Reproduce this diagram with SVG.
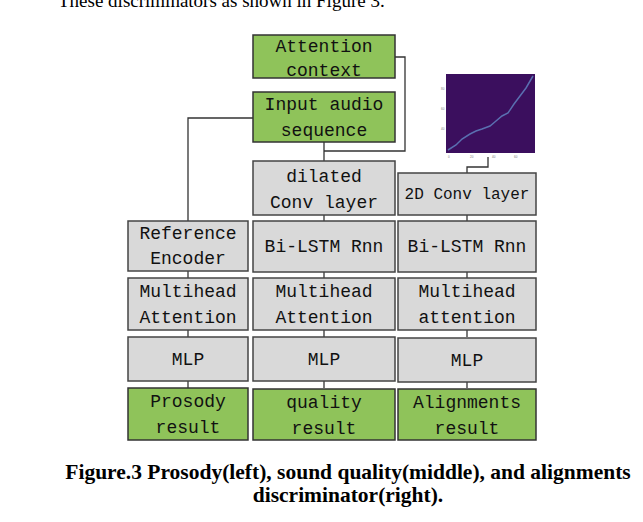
<svg xmlns="http://www.w3.org/2000/svg" width="643" height="522" viewBox="0 0 643 522">
<style>
.g{fill:#8fc35a;stroke:#333;stroke-width:1.5}
.s{fill:#d9d9d9;stroke:#444;stroke-width:1.5}
.t{font-family:"Liberation Mono",monospace;font-size:18px;fill:#111;text-anchor:middle}
.c{fill:none;stroke:#333;stroke-width:1.3}
.cap{font-family:"Liberation Serif",serif;font-weight:bold;font-size:21.5px;text-anchor:middle;fill:#000}
</style>
<rect width="643" height="522" fill="#fff"/>
<text x="58" y="7" font-family="Liberation Serif,serif" font-size="19">These discriminators as shown in Figure 3.</text>
<g id="connectors" class="c">
<polyline points="395,57 405,57 405,151 324,151"/>
<line x1="324" y1="142" x2="324" y2="161"/>
<polyline points="253,118 188,118 188,221"/>
<polyline points="488,157 488,167 467,167 467,173"/>
<line x1="324" y1="215" x2="324" y2="221"/>
<line x1="467" y1="215" x2="467" y2="221"/>
<line x1="188" y1="271" x2="188" y2="278"/><line x1="324" y1="272" x2="324" y2="278"/><line x1="467" y1="272" x2="467" y2="278"/>
<line x1="188" y1="330" x2="188" y2="337"/><line x1="324" y1="330" x2="324" y2="337"/><line x1="467" y1="330" x2="467" y2="337"/>
<line x1="188" y1="381" x2="188" y2="388"/><line x1="324" y1="381" x2="324" y2="388"/><line x1="467" y1="381" x2="467" y2="388"/>
</g>
<g id="attention-context"><rect class="g" x="253" y="35" width="142" height="43"/><text class="t" x="324" y="52">Attention</text><text class="t" x="324" y="76">context</text></g>
<g id="input-audio"><rect class="g" x="253" y="92" width="142" height="50"/><text class="t" x="324" y="110">Input audio</text><text class="t" x="324" y="136">sequence</text></g>
<g id="plot">
<rect x="446" y="74" width="89" height="79" fill="#3b0f5e"/>
<polyline points="448,150 456,145 462,139 470,134 476,131 482,129 490,126 496,121 502,116 508,113 514,104 520,96 526,88 533,76" fill="none" stroke="#5a6fb0" stroke-width="1.5"/>
<g font-family="Liberation Sans,sans-serif" font-size="3" fill="#777"><text x="441" y="90">80</text><text x="441" y="110">60</text><text x="441" y="130">40</text><text x="448" y="158">0</text><text x="470" y="158">20</text><text x="492" y="158">40</text><text x="514" y="158">60</text></g>
</g>
<g id="dilated-conv"><rect class="s" x="253" y="161" width="142" height="54"/><text class="t" x="324" y="182">dilated</text><text class="t" x="324" y="208">Conv layer</text></g>
<g id="conv2d"><rect class="s" x="398" y="173" width="138" height="42"/><text class="t" x="467" y="199" style="font-size:16px">2D Conv layer</text></g>
<g id="reference-encoder"><rect class="s" x="128" y="221" width="120" height="50"/><text class="t" x="188" y="239">Reference</text><text class="t" x="188" y="264">Encoder</text></g>
<g id="bilstm-mid"><rect class="s" x="253" y="221" width="142" height="51"/><text class="t" x="324" y="252">Bi-LSTM Rnn</text></g>
<g id="bilstm-right"><rect class="s" x="398" y="221" width="138" height="51"/><text class="t" x="467" y="252">Bi-LSTM Rnn</text></g>
<g id="mha-left"><rect class="s" x="128" y="278" width="120" height="52"/><text class="t" x="188" y="297">Multihead</text><text class="t" x="188" y="323">Attention</text></g>
<g id="mha-mid"><rect class="s" x="253" y="278" width="142" height="52"/><text class="t" x="324" y="297">Multihead</text><text class="t" x="324" y="323">Attention</text></g>
<g id="mha-right"><rect class="s" x="398" y="278" width="138" height="52"/><text class="t" x="467" y="297">Multihead</text><text class="t" x="467" y="323">attention</text></g>
<g id="mlp-left"><rect class="s" x="128" y="337" width="120" height="44"/><text class="t" x="188" y="365">MLP</text></g>
<g id="mlp-mid"><rect class="s" x="253" y="337" width="142" height="44"/><text class="t" x="324" y="365">MLP</text></g>
<g id="mlp-right"><rect class="s" x="398" y="338" width="138" height="44"/><text class="t" x="467" y="366">MLP</text></g>
<g id="prosody-result"><rect class="g" x="128" y="388" width="120" height="52"/><text class="t" x="188" y="407">Prosody</text><text class="t" x="188" y="433">result</text></g>
<g id="quality-result"><rect class="g" x="253" y="389" width="142" height="51"/><text class="t" x="324" y="408">quality</text><text class="t" x="324" y="434">result</text></g>
<g id="alignments-result"><rect class="g" x="398" y="389" width="138" height="51"/><text class="t" x="467" y="408">Alignments</text><text class="t" x="467" y="434">result</text></g>
<text class="cap" x="348" y="479">Figure.3 Prosody(left), sound quality(middle), and alignments</text>
<text class="cap" x="348" y="502">discriminator(right).</text>
</svg>
